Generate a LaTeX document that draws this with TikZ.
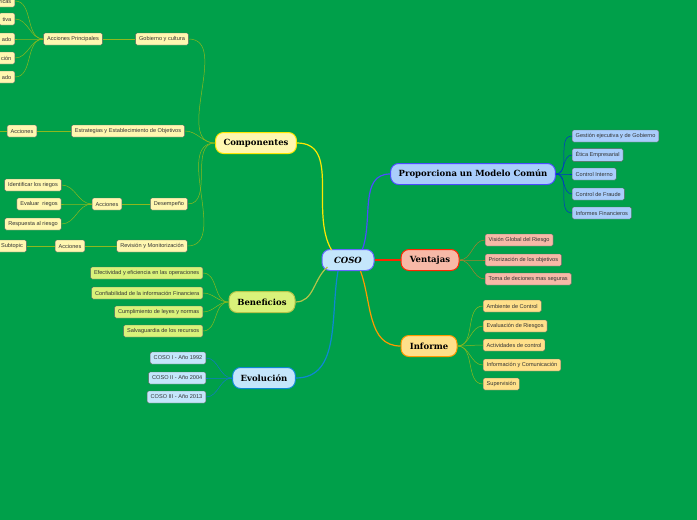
\documentclass[tikz,border=0pt]{standalone}
\usepackage{fontspec}
\setmainfont{Liberation Sans}
\newfontfamily\topicfont{DejaVu Serif}
\definecolor{bg}{HTML}{00A04A}
\definecolor{yel}{HTML}{FFF7B0}
\definecolor{lime}{HTML}{D9F27A}
\definecolor{lblue}{HTML}{C4E6FB}
\definecolor{mblue}{HTML}{A9CDFB}
\definecolor{salm}{HTML}{F7B9A7}
\definecolor{ora}{HTML}{FFE08A}
\definecolor{sub}{HTML}{8DB81E}
\begin{document}
\begin{tikzpicture}[x=1pt,y=-1pt,
 leaf/.style={draw=black!60,rounded corners=1.5pt,font=\fontsize{5.6}{6.5}\selectfont,inner xsep=3.5pt,minimum height=12pt,text=black!80},
 topic/.style={draw,line width=1pt,rounded corners=8pt,font=\topicfont\bfseries\fontsize{8.5}{9}\selectfont,minimum height=21pt,inner xsep=8pt},
 sl/.style={draw=sub,line width=0.5pt},
 br/.style={line width=1.2pt}]
\fill[bg] (0,0) rectangle (697,520);
\useasboundingbox (0,0) rectangle (697,520);
% root and topics
\node[topic,fill=lblue,draw=blue!60,font=\topicfont\bfseries\itshape\fontsize{8.5}{9}\selectfont,minimum width=52pt] (root) at (348,260) {COSO};
\node[topic,fill=yel,draw=yellow!90!orange,minimum width=76pt] (comp) at (256,143) {Componentes};
\node[topic,fill=lime,draw=lime!60!olive,minimum width=66pt] (ben) at (262,302) {Beneficios};
\node[topic,fill=lblue,draw=cyan!70!blue,minimum width=62pt] (evo) at (264,378) {Evolución};
\node[topic,fill=mblue,draw=blue!70,minimum width=144pt] (prop) at (473,174) {Proporciona un Modelo Común};
\node[topic,fill=salm,draw=red!70!orange,minimum width=58pt] (ven) at (430,260) {Ventajas};
\node[topic,fill=ora,draw=orange!80!yellow,minimum width=56pt] (inf) at (429,346) {Informe};
\draw[br,yellow!90!orange] (root.west) ++(10,-10) to[out=120,in=0] (comp.east);
\draw[br,lime!60!olive] (root.south west) ++(6,-4) to[out=220,in=0] (ben.east);
\draw[br,cyan!70!blue] (root.south) ++(-10,0) to[out=260,in=0] (evo.east);
\draw[br,blue!70] (root.north east) ++(-12,0) to[out=70,in=180] (prop.west);
\draw[br,red!70!orange] (root.east) -- (ven.west);
\draw[br,orange!80!yellow] (root.south east) ++(-14,0) to[out=290,in=180] (inf.west);
% Componentes
\node[leaf,fill=yel] (gob) at (162,39) {Gobierno y cultura};
\node[leaf,fill=yel] (ap) at (73,39) {Acciones Principales};
\node[leaf,fill=yel,anchor=east] (l1) at (15,1) {ricas};
\node[leaf,fill=yel,anchor=east] (l2) at (15,19) {tiva};
\node[leaf,fill=yel,anchor=east] (l3) at (15,39) {ado};
\node[leaf,fill=yel,anchor=east] (l4) at (15,58) {ción};
\node[leaf,fill=yel,anchor=east] (l5) at (15,77) {ado};
\node[leaf,fill=yel] (est) at (128,131) {Estrategias y Establecimiento de Objetivos};
\node[leaf,fill=yel] (ac1) at (22,131) {Acciones};
\coordinate (ac1l) at (0,131);
\node[leaf,fill=yel] (des) at (169,204) {Desempeño};
\node[leaf,fill=yel] (ac2) at (107,204) {Acciones};
\node[leaf,fill=yel] (id) at (33,185) {Identificar los riegos};
\node[leaf,fill=yel] (ev) at (39,204) {Evaluar\ \ riegos};
\node[leaf,fill=yel] (re) at (33,224) {Respuesta al riesgo};
\node[leaf,fill=yel] (rev) at (152,246) {Revisión y Monitorización};
\node[leaf,fill=yel] (ac3) at (70,246) {Acciones};
\node[leaf,fill=yel] (st) at (12,246) {Subtopic};
\foreach \n in {gob,est,des,rev} \draw[sl] (comp.west) to[out=180,in=0] (\n.east);
\foreach \n in {l1,l2,l3,l4,l5} \draw[sl] (ap.west) to[out=180,in=0] (\n.east);
\draw[sl] (gob) -- (ap); \draw[sl] (est) -- (ac1); \draw[sl] (ac1) -- (ac1l);
\draw[sl] (des) -- (ac2);
\foreach \n in {id,ev,re} \draw[sl] (ac2.west) to[out=180,in=0] (\n.east);
\draw[sl] (rev) -- (ac3); \draw[sl] (ac3) -- (st);
% Beneficios
\node[leaf,fill=lime,anchor=east] (b1) at (203,273) {Efectividad y eficiencia en las operaciones};
\node[leaf,fill=lime,anchor=east] (b2) at (203,293) {Confiabilidad de la información Financiera};
\node[leaf,fill=lime,anchor=east] (b3) at (203,312) {Cumplimiento de leyes y normas};
\node[leaf,fill=lime,anchor=east] (b4) at (203,331) {Salvaguardia de los recursos};
\foreach \n in {b1,b2,b3,b4} \draw[sl] (ben.west) to[out=180,in=0] (\n.east);
% Evolucion
\node[leaf,fill=lblue,anchor=east] (e1) at (206,358) {COSO I - Año 1992};
\node[leaf,fill=lblue,anchor=east] (e2) at (206,378) {COSO II - Año 2004};
\node[leaf,fill=lblue,anchor=east] (e3) at (206,397) {COSO III - Año 2013};
\foreach \n in {e1,e2,e3} \draw[draw=cyan!60!blue,line width=0.5pt] (evo.west) to[out=180,in=0] (\n.east);
% Proporciona
\node[leaf,fill=mblue,anchor=west] (p1) at (572,136) {Gestión ejecutiva y de Gobierno};
\node[leaf,fill=mblue,anchor=west] (p2) at (572,155) {Ética Empresarial};
\node[leaf,fill=mblue,anchor=west] (p3) at (572,174) {Control Interno};
\node[leaf,fill=mblue,anchor=west] (p4) at (572,194) {Control de Fraude};
\node[leaf,fill=mblue,anchor=west] (p5) at (572,213) {Informes Financieros};
\foreach \n in {p1,p2,p3,p4,p5} \draw[draw=blue!60!teal,line width=0.5pt] (prop.east) to[out=0,in=180] (\n.west);
% Ventajas
\node[leaf,fill=salm,anchor=west] (v1) at (485,240) {Visión Global del Riesgo};
\node[leaf,fill=salm,anchor=west] (v2) at (485,260) {Priorización de los objetivos};
\node[leaf,fill=salm,anchor=west] (v3) at (485,279) {Toma de deciones mas seguras};
\foreach \n in {v1,v2,v3} \draw[draw=brown!70!olive,line width=0.5pt] (ven.east) to[out=0,in=180] (\n.west);
% Informe
\node[leaf,fill=ora,anchor=west] (i1) at (483,306) {Ambiente de Control};
\node[leaf,fill=ora,anchor=west] (i2) at (483,326) {Evaluación de Riesgos};
\node[leaf,fill=ora,anchor=west] (i3) at (483,345) {Actividades de control};
\node[leaf,fill=ora,anchor=west] (i4) at (483,365) {Información y Comunicación};
\node[leaf,fill=ora,anchor=west] (i5) at (483,384) {Supervisión};
\foreach \n in {i1,i2,i3,i4,i5} \draw[sl] (inf.east) to[out=0,in=180] (\n.west);
\end{tikzpicture}
\end{document}
